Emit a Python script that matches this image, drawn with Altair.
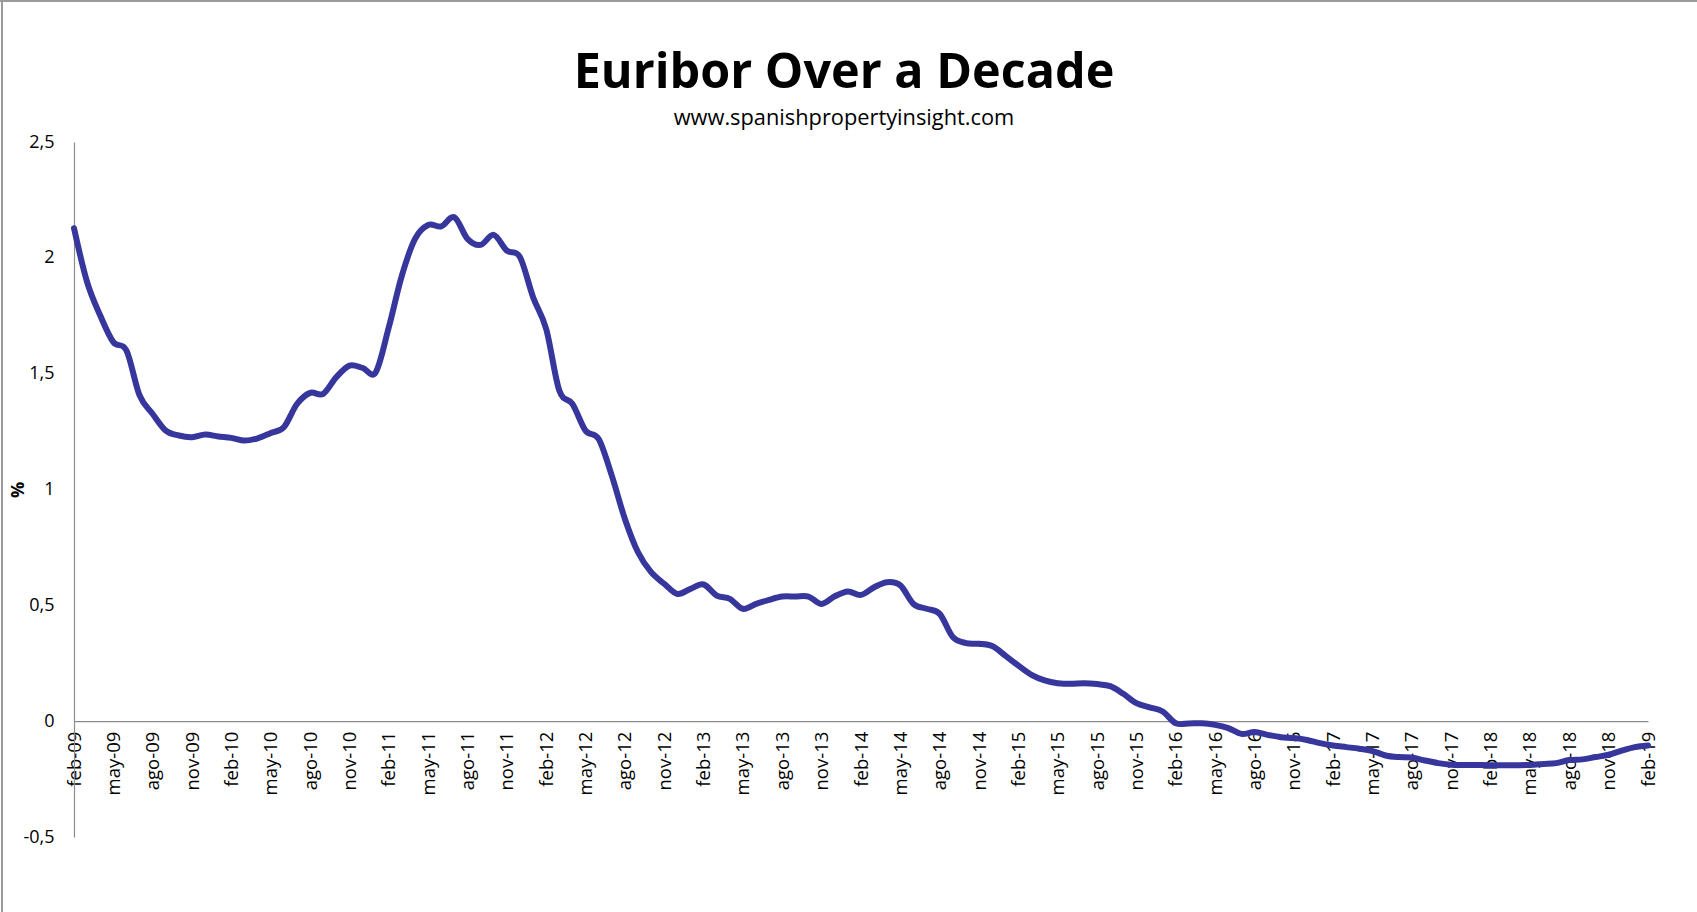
import altair as alt
import pandas as pd

# Spanish month abbreviations and years used for the category labels
MONTHS_ES = ["ene", "feb", "mar", "abr", "may", "jun", "jul", "ago", "sep", "oct", "nov", "dic"]

# 12-month Euribor (%), feb-09 .. feb-19
v2009 = [2.128, 1.895, 1.751, 1.636, 1.600, 1.406, 1.326, 1.254, 1.233, 1.226, 1.237]          # feb-dic
v2010 = [1.229, 1.223, 1.211, 1.221, 1.244, 1.269, 1.369, 1.417, 1.413, 1.485, 1.535, 1.525]
v2011 = [1.506, 1.700, 1.924, 2.082, 2.142, 2.136, 2.175, 2.082, 2.056, 2.099, 2.031, 2.003]
v2012 = [1.830, 1.693, 1.427, 1.370, 1.254, 1.218, 1.060, 0.873, 0.729, 0.643, 0.593, 0.549]
v2013 = [0.571, 0.590, 0.542, 0.528, 0.485, 0.506, 0.524, 0.538, 0.538, 0.538, 0.506, 0.539]
v2014 = [0.560, 0.545, 0.578, 0.600, 0.586, 0.506, 0.485, 0.463, 0.363, 0.337, 0.334, 0.324]
v2015 = [0.283, 0.240, 0.200, 0.176, 0.164, 0.161, 0.164, 0.160, 0.151, 0.118, 0.078, 0.060]
v2016 = [0.042, -0.009, -0.010, -0.009, -0.016, -0.030, -0.055, -0.047, -0.059, -0.069, -0.073, -0.081]
v2017 = [-0.095, -0.105, -0.112, -0.119, -0.129, -0.148, -0.155, -0.157, -0.170, -0.181, -0.188, -0.189]
v2018 = [-0.189, -0.190, -0.190, -0.190, -0.189, -0.185, -0.181, -0.168, -0.165, -0.155, -0.145, -0.127]
v2019 = [-0.112, -0.105]                                                                         # ene-feb

y_ticks = [-0.5, 0, 0.5, 1, 1.5, 2, 2.5]

# build the month label list
labels = []
values = []
series = [(2009, 1, v2009), (2010, 0, v2010), (2011, 0, v2011), (2012, 0, v2012),
          (2013, 0, v2013), (2014, 0, v2014), (2015, 0, v2015), (2016, 0, v2016),
          (2017, 0, v2017), (2018, 0, v2018), (2019, 0, v2019)]
for year, start, vals in series:
    for i, v in enumerate(vals):
        labels.append(f"{MONTHS_ES[start + i]}-{year % 100:02d}")
        values.append(v)

df = pd.DataFrame({"month": labels, "value": values})
tick_labels = labels[::3]

W, H = 1574, 695
Y_MIN, Y_MAX = -0.5, 2.5
zero_offset = -(0 - Y_MIN) / (Y_MAX - Y_MIN) * H  # move x axis up to y = 0

FONT = "Open Sans"
AXIS_GRAY = "#8c8c8c"

line = alt.Chart(df).mark_line(
    color="#36369c", strokeWidth=6, interpolate="cardinal", strokeCap="round", strokeJoin="round"
).encode(
    x=alt.X("month:O", sort=None,
            scale=alt.Scale(type="point", padding=0),
            axis=alt.Axis(values=tick_labels, title=None, labelAngle=-90, labelPadding=10,
                          labelFontSize=18.5, labelFont=FONT, labelColor="#000000",
                          ticks=False, domainColor=AXIS_GRAY, domainWidth=1.2,
                          labelOverlap=False, offset=zero_offset, grid=False)),
    y=alt.Y("value:Q",
            scale=alt.Scale(domain=[Y_MIN, Y_MAX], nice=False, zero=False),
            axis=alt.Axis(values=y_ticks, title="%", titleFont=FONT, titleFontSize=18,
                          titleFontWeight="bold", titleColor="#000000",
                          titleX=-56, titleY=H / 2, titleAlign="center", titleBaseline="middle",
                          titleAngle=-90,
                          labelExpr="replace(toString(datum.value), '.', ',')",
                          labelFontSize=18, labelFont=FONT, labelColor="#000000", labelPadding=20,
                          ticks=False, domainColor=AXIS_GRAY, domainWidth=1.2, grid=False)),
)

# outer frame (top and left edges of the chart area, as in the original)
frame_top = alt.Chart(df).mark_rule(color="#9a9a9a", strokeWidth=2).encode(
    x=alt.value(-74), x2=alt.value(1697 - 74), y=alt.value(-141)
)
frame_left = alt.Chart(df).mark_rule(color="#9a9a9a", strokeWidth=2).encode(
    x=alt.value(-72), y=alt.value(-142), y2=alt.value(912 - 142)
)

chart = alt.layer(line, frame_top, frame_left).properties(
    width=W, height=H,
    title=alt.TitleParams(
        text="Euribor Over a Decade",
        subtitle="www.spanishpropertyinsight.com",
        font=FONT, fontSize=48.5, fontWeight="bold", color="#000000",
        subtitleFont=FONT, subtitleFontSize=21.8, subtitleColor="#000000",
        subtitlePadding=10, anchor="middle", frame="group", dx=-17, offset=-132,
    ),
    autosize=alt.AutoSizeParams(type="none"),
    padding={"left": 74, "top": 142, "right": 49, "bottom": 75},
).configure_view(strokeWidth=0)

chart.save("out.html", embed_options={"renderer": "svg", "actions": False})
